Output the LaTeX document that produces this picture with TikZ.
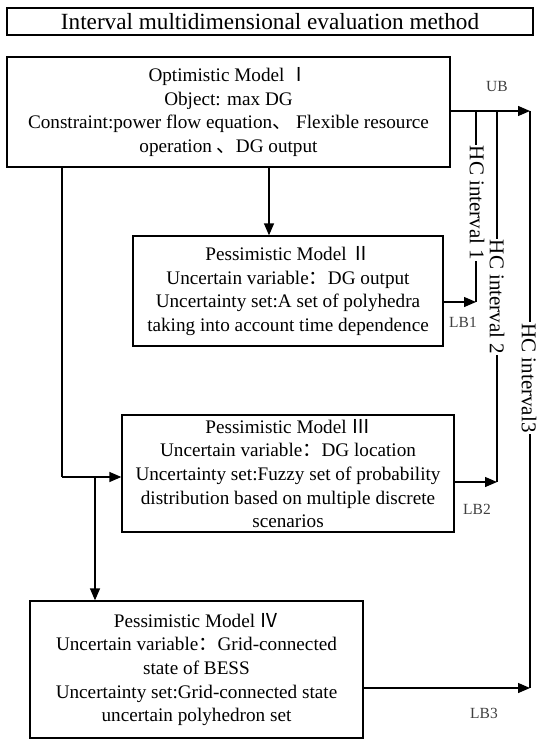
\documentclass[tikz,border=0pt]{standalone}
\usepackage{fontspec}
\setmainfont{Liberation Serif}
\newfontfamily\cjk{Noto Sans CJK SC}
\usetikzlibrary{arrows.meta,calc}
\begin{document}
\begin{tikzpicture}[x=1pt,y=-1pt,
  box/.style={draw,line width=1.3pt,inner sep=0pt,align=center,font=\fontsize{19.2}{23.6}\selectfont},
  conn/.style={line width=1.3pt},
  arr/.style={conn,-{Triangle[length=12pt,width=10pt]}},
  hclab/.style={rotate=-90,fill=white,inner sep=1pt,font=\fontsize{21}{21}\selectfont},
  lblab/.style={font=\fontsize{15.5}{15.5}\selectfont,text=black!75}]
\useasboundingbox (0,0) rectangle (550,746);
\node[box,minimum width=526pt,minimum height=27pt,font=\fontsize{23.2}{23.2}\selectfont] (title) at (270,21.5) {Interval multidimensional evaluation method};
\node[box,minimum width=443pt,minimum height=110pt] (m1) at (228.5,112) {Optimistic Model {\cjk Ⅰ}\\Object: max DG\\Constraint:power flow equation{\cjk 、} Flexible resource\\operation {\cjk 、}DG output};
\node[box,minimum width=310pt,minimum height=110pt] (m2) at (288,291) {Pessimistic Model {\cjk Ⅱ}\\Uncertain variable{\cjk ：}DG output\\Uncertainty set:A set of polyhedra\\taking into account time dependence};
\node[box,minimum width=332pt,minimum height=117pt] (m3) at (288,473.5) {Pessimistic Model {\cjk Ⅲ}\\Uncertain variable{\cjk ：}DG location\\Uncertainty set:Fuzzy set of probability\\distribution based on multiple discrete\\scenarios};
\node[box,minimum width=333pt,minimum height=137pt] (m4) at (196.5,669.5) {Pessimistic Model {\cjk Ⅳ}\\Uncertain variable{\cjk ：}Grid-connected\\state of BESS\\Uncertainty set:Grid-connected state\\uncertain polyhedron set};
\coordinate (ubEnd) at (530,111);
\coordinate (lb3End) at (530,688);
\coordinate (hc1Top) at (476,111);
\coordinate (hc1Bot) at (476,302);
\coordinate (hc2Top) at (497,111);
\coordinate (hc2Bot) at (497,482);
\coordinate (jA) at (62,477);
\coordinate (jB) at (95,477);
\coordinate (c2) at (269,0);
\draw[arr] (m1.south -| c2) -- (m2.north -| c2);
\draw[conn] (m1.south -| jA) -- (jA);
\draw[arr] (jA) -- (m3.west |- jA);
\draw[arr] (jB) -- (m4.north -| jB);
\draw[arr] (m1.east |- ubEnd) -- (ubEnd);
\draw[conn] (ubEnd) -- (lb3End);
\draw[arr] (m4.east |- lb3End) -- (lb3End);
\draw[conn] (hc1Top) -- (hc1Bot);
\draw[arr] (m2.east |- hc1Bot) -- (hc1Bot);
\draw[conn] (hc2Top) -- (hc2Bot);
\draw[arr] (m3.east |- hc2Bot) -- (hc2Bot);
\node[hclab] (hc1) at (477,203) {HC interval 1};
\node[hclab] (hc2) at (497,297) {HC interval 2};
\node[hclab] (hc3) at (529,378) {HC interval3};
\node[lblab] (ub) at (497,87) {UB};
\node[lblab] (lb1) at (463,322) {LB1};
\node[lblab] (lb2) at (477,509) {LB2};
\node[lblab] (lb3) at (484,713) {LB3};
\end{tikzpicture}
\end{document}
